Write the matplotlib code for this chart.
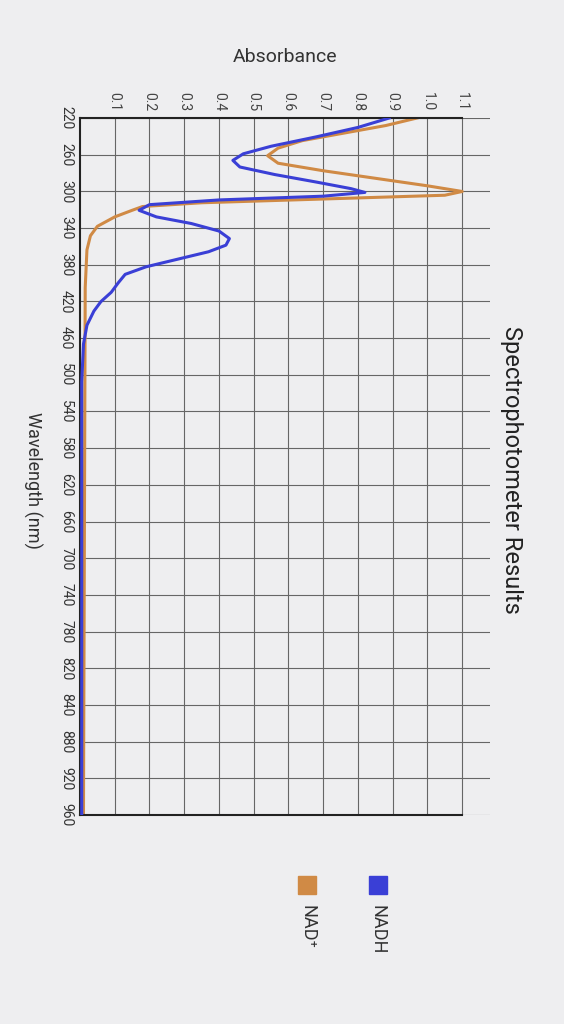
import matplotlib
matplotlib.use("Agg")
import matplotlib.pyplot as plt
import numpy as np
from matplotlib.patches import Rectangle

plt.rcParams["font.family"] = ["Roboto", "DejaVu Sans"]

# chart is drawn rotated: absorbance runs left->right, wavelength top->bottom
nadh_wl = [220, 230, 240, 250, 258, 265, 272, 280, 288, 295, 299, 303, 307, 312, 318,
           325, 332, 340, 348, 355, 362, 370, 378, 386, 395, 405, 415, 425, 440, 460, 500, 960]
nadh_abs = [0.89, 0.80, 0.68, 0.55, 0.47, 0.44, 0.46, 0.56, 0.68, 0.78, 0.82, 0.70, 0.40, 0.20, 0.17,
            0.22, 0.32, 0.40, 0.43, 0.42, 0.37, 0.28, 0.19, 0.13, 0.11, 0.09, 0.06, 0.04, 0.02, 0.01, 0.005, 0.005]
nad_wl = [220, 228, 236, 244, 252, 260, 268, 276, 284, 292, 298, 302, 306, 310, 314,
          318, 325, 335, 345, 360, 400, 960]
nad_abs = [0.97, 0.88, 0.76, 0.64, 0.57, 0.54, 0.57, 0.70, 0.85, 1.00, 1.10, 1.05, 0.70, 0.35, 0.18,
           0.15, 0.10, 0.05, 0.03, 0.02, 0.015, 0.01]
abs_ticks = [0.1, 0.2, 0.3, 0.4, 0.5, 0.6, 0.7, 0.8, 0.9, 1.0, 1.1]
wl_labels = ["220", "260", "300", "340", "380", "420", "460", "500", "540", "580", "620",
             "660", "700", "740", "780", "820", "840", "880", "920", "960"]

BLUE = "#3a3fd6"; ORANGE = "#d08a45"; BG = "#eeeef0"

fig = plt.figure(figsize=(5.64, 10.24), dpi=100, facecolor=BG)
ax = fig.add_axes([80/564, 1-815/1024, 410/564, 697/1024], facecolor=BG)
ax.plot(nadh_abs, nadh_wl, color=BLUE, lw=2.2, zorder=3, solid_joinstyle="round")
ax.plot(nad_abs, nad_wl, color=ORANGE, lw=2.2, zorder=2, solid_joinstyle="round")
ax.set_xlim(0, 1.18)
ax.set_ylim(960, 220)
ax.xaxis.tick_top()
ax.set_xticks(abs_ticks)
ax.set_xticklabels([f"{t:.1f}" for t in abs_ticks], rotation=-90, fontsize=10, color="#444")
ax.set_yticks(np.linspace(220, 960, len(wl_labels)))
ax.set_yticklabels(wl_labels, rotation=-90, va="center", fontsize=10, color="#333")
ax.tick_params(length=0, pad=5)
ax.grid(True, color="#666", lw=0.8)
ax.spines["right"].set_visible(False)
for s in ("left", "top", "bottom"):
    ax.spines[s].set_color("#222"); ax.spines[s].set_linewidth(1.5)
ax.spines["top"].set_bounds(0, 1.1)
ax.spines["bottom"].set_bounds(0, 1.1)

fig.text(285/564, 1-57/1024, "Absorbance", ha="center", va="center", fontsize=14, color="#333")
fig.text(512/564, 1-470/1024, "Spectrophotometer Results", rotation=-90, ha="center", va="center",
         fontsize=17, color="#222")
fig.text(33/564, 1-480/1024, "Wavelength (nm)", rotation=-90, ha="center", va="center",
         fontsize=13, color="#333")
for xc, col, lab in [(378, BLUE, "NADH"), (307, ORANGE, "NAD⁺")]:
    fig.patches.append(Rectangle(((xc-9)/564, 1-(885+9)/1024), 18/564, 18/1024,
                                 transform=fig.transFigure, color=col))
    fig.text(xc/564, 1-905/1024, lab, rotation=-90, ha="center", va="top", fontsize=13, color="#333")

fig.savefig("out.png", dpi=100, facecolor=BG)
